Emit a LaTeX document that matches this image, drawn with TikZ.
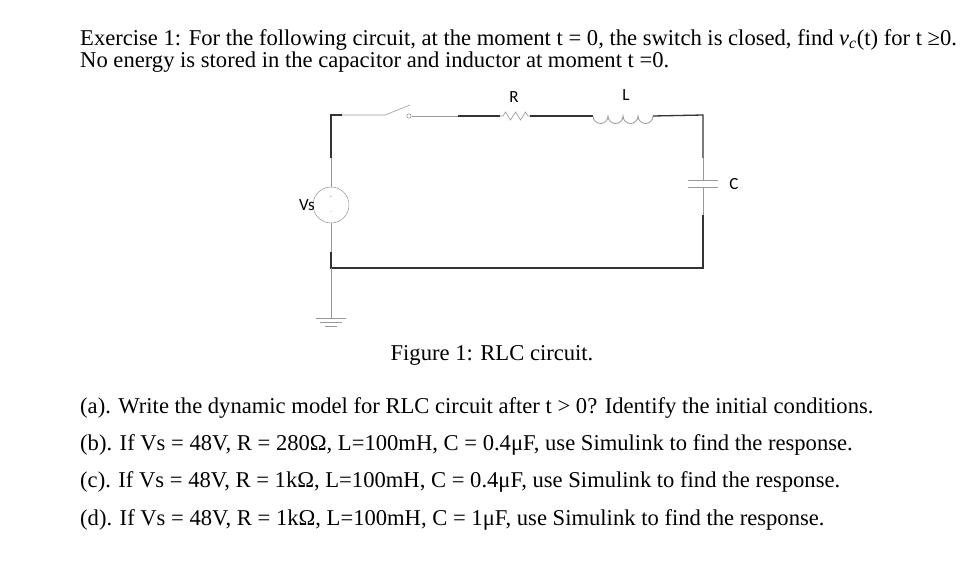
\documentclass[tikz,border=0pt]{standalone}
\usepackage{fontspec}
\setmainfont{Liberation Serif}
\newfontfamily\lblfont{Carlito}
\begin{document}
\begin{tikzpicture}[x=1pt,y=-1pt,
  txt/.style={anchor=west,inner sep=0,font=\fontsize{22.6}{26}\selectfont},
  lbl/.style={inner sep=0,font=\lblfont\fontsize{17}{19}\selectfont},
  bw/.style={line width=1.3pt,black!80},
  gw/.style={line width=0.6pt,black!40}]
\useasboundingbox (0,0) rectangle (972,573);
\node[txt] (t1) at (80,40) {Exercise 1: For the following circuit, at the moment t = 0, the switch is closed, find \textit{v\textsubscript{c}}(t) for t ≥0.};
\node[txt] (t2) at (80,62) {No energy is stored in the capacitor and inductor at moment t =0.};
\node[txt,anchor=center] (cap) at (492,355) {Figure 1: RLC circuit.};
\node[txt] (a) at (80,408) {(a). Write the dynamic model for RLC circuit after t > 0? Identify the initial conditions.};
\node[txt] (b) at (80,445) {(b). If Vs = 48V, R = 280Ω, L=100mH, C = 0.4μF, use Simulink to find the response.};
\node[txt] (c) at (80,482) {(c). If Vs = 48V, R = 1kΩ, L=100mH, C = 0.4μF, use Simulink to find the response.};
\node[txt] (d) at (80,520) {(d). If Vs = 48V, R = 1kΩ, L=100mH, C = 1μF, use Simulink to find the response.};
% coordinates
\coordinate (tl) at (331,115);
\coordinate (tr) at (703,115);
\coordinate (bl) at (331,268);
\coordinate (br) at (703,268);
\node[draw,gray,circle,minimum size=36pt,inner sep=0] (vs) at (331,205) {};
\node[font=\tiny,gray] at (331,197) {+};
\node[font=\tiny,gray] at (331,213) {--};
% top
\draw[bw] (331,158) -- (tl) -- (342,115);
\draw[gw] (342,115) -- (385,115) -- (410,105);
\draw[gw] (409,116) circle (2.2);
\draw[gw] (411.5,116) -- (458,116);
\draw[bw] (458,116) -- (500,116);
\draw[gw] (500,116) -- (503,116) -- (505.5,112) -- (510.5,120) -- (515.5,112) -- (520.5,120) -- (525.5,112) -- (528,116) -- (530,116);
\draw[bw] (530,116) -- (593,116);
\draw[gw,line width=0.8pt] (593,116) arc (180:0:7.5) arc (180:0:7.5) arc (180:0:7.5) arc (180:0:7.5);
\draw[bw] (653,116) -- (tr) -- (703,158);
% right
\draw[gw] (703,158) -- (703,180) (688,180) -- (718,180) (688,187) -- (718,187) (703,187) -- (703,215);
\draw[bw] (703,215) -- (br) -- (bl) -- (331,252);
% left
\draw[gw] (331,158) -- (vs.north) (vs.south) -- (331,252) (bl) -- (331,318);
\draw[gw] (316,318) -- (346,318) (320,322) -- (342,322) (325,326) -- (337,326);
\node[lbl] (R) at (514,97) {R};
\node[lbl] (L) at (626,95) {L};
\node[lbl] (C) at (734,184) {C};
\node[lbl] (V) at (307,205) {Vs};
\end{tikzpicture}
\end{document}
